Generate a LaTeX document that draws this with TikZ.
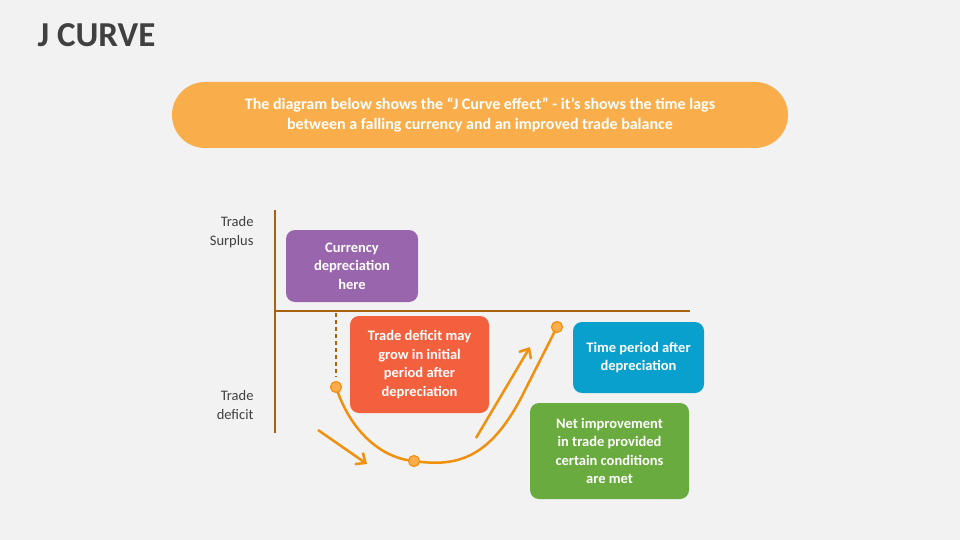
\documentclass[tikz,border=0pt]{standalone}
\usepackage{fontspec}
\setmainfont{Carlito}
\usetikzlibrary{arrows.meta}
\definecolor{bg}{HTML}{F2F2F2}
\definecolor{pill}{HTML}{F9AE4B}
\definecolor{axis}{HTML}{A8620F}
\definecolor{cpurple}{HTML}{9966AE}
\definecolor{cred}{HTML}{F2603D}
\definecolor{cblue}{HTML}{0AA0CE}
\definecolor{cgreen}{HTML}{6AAB3F}
\definecolor{corange}{HTML}{F0900F}
\definecolor{txt}{HTML}{404040}
\begin{document}
\begin{tikzpicture}[x=1pt,y=-1pt,
  box/.style={rounded corners=9pt,text=white,font=\fontsize{14.5}{18.5}\selectfont\bfseries,align=center,inner sep=0pt},
  lbl/.style={text=txt,font=\fontsize{14.5}{18.5}\selectfont,align=right,anchor=east},
  dot/.style={circle,fill=pill,draw=corange,line width=1.2pt,minimum size=11pt,inner sep=0pt},
  arr/.style={draw=corange,line width=2.5pt,-{Straight Barb[length=8pt,width=14pt]}}]
\fill[bg] (0,0) rectangle (960,540);
\useasboundingbox (0,0) rectangle (960,540);
\node[anchor=west,text=txt,font=\fontsize{35}{40}\selectfont\bfseries] (title) at (34,35) {J CURVE};
\fill[pill,rounded corners=33pt] (172,82) rectangle (788,148);
\node[text=white,font=\fontsize{16}{20.5}\selectfont\bfseries,align=center] (head) at (480,115) {The diagram below shows the “J Curve effect” - it’s shows the time lags\\between a falling currency and an improved trade balance};
\draw[axis,line width=2.2pt] (275,210) -- (275,433);
\draw[axis,line width=2.2pt] (275,311) -- (690,311);
\node[lbl] (ts) at (257,232) {Trade\\Surplus};
\node[lbl] (td) at (257,405) {Trade\\deficit};
\fill[cpurple,rounded corners=9pt] (286,230) rectangle (418,302);
\node[box] (p) at (352,266) {Currency\\depreciation\\here};
\fill[cred,rounded corners=9pt] (350,316) rectangle (489,413);
\node[box] (r) at (419.5,364.5) {Trade deficit may\\grow in initial\\period after\\depreciation};
\fill[cblue,rounded corners=9pt] (573,322) rectangle (704,393);
\node[box] (b) at (638.5,357.5) {Time period after\\depreciation};
\fill[cgreen,rounded corners=9pt] (530,403) rectangle (689,499);
\node[box] (g) at (609.5,451) {Net improvement\\in trade provided\\certain conditions\\are met};
\draw[axis,line width=1.6pt,dash pattern=on 4pt off 3pt] (336,313) -- (336,377);
\draw[corange,line width=2.5pt] (336,387) .. controls (350,430) and (380,458) .. (414,461);
\draw[corange,line width=2.5pt] (414,461) .. controls (460,468) and (490,455) .. (520,400) -- (557,327);
\node[dot] (d1) at (336,387) {};
\node[dot] (d2) at (414,461) {};
\node[dot] (d3) at (557,327) {};
\coordinate (a1s) at (318,430); \coordinate (a1e) at (367,464);
\coordinate (a2s) at (476,438); \coordinate (a2e) at (530,347);
\draw[arr] (a1s) -- (a1e);
\draw[arr] (a2s) -- (a2e);
\end{tikzpicture}
\end{document}
